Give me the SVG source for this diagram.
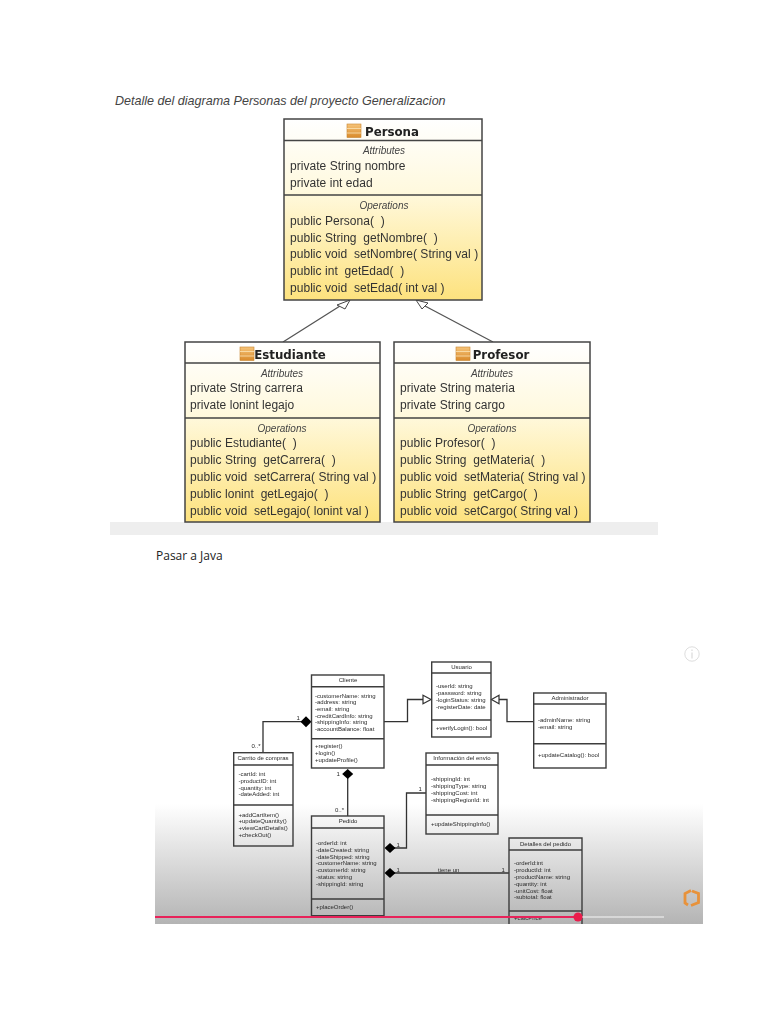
<svg xmlns="http://www.w3.org/2000/svg" width="768" height="1024" viewBox="0 0 768 1024">
<style>
text{font-family:"Liberation Sans",Arial,sans-serif;white-space:pre}
.box{fill:none;stroke:#3c3c3c;stroke-width:1.4}
.big .box{stroke:#444;stroke-width:1.5}
.big text{font-size:12px;letter-spacing:.04px;fill:#333}
.big .hd{font-family:"DejaVu Sans",sans-serif;font-weight:bold;font-size:11.800px;letter-spacing:0;fill:#222;text-anchor:middle}
.big .sec{font-style:italic;font-size:10px;letter-spacing:0;fill:#444;text-anchor:middle}
.small text{font-size:6px;fill:#2a2a2a}
.small .hd{text-anchor:middle}
.cn{fill:none;stroke:#333;stroke-width:1.3}
.cb{fill:none;stroke:#555;stroke-width:1.3}
.tri{fill:#fff;stroke:#333;stroke-width:1.200}
.dia{fill:#000}
</style>
<defs>
<linearGradient id="yl" x1="0" y1="0" x2="0" y2="1"><stop offset="0" stop-color="#ffffff"/><stop offset=".4" stop-color="#fff9de"/><stop offset="1" stop-color="#fde27e"/></linearGradient>
<linearGradient id="ic" x1="0" y1="0" x2="0" y2="1"><stop offset="0" stop-color="#f6c47a"/><stop offset="1" stop-color="#d98a2a"/></linearGradient>
<linearGradient id="bg" x1="0" y1="0" x2="0" y2="1"><stop offset="0" stop-color="#ffffff"/><stop offset=".2" stop-color="#f0f0f0"/><stop offset="1" stop-color="#b4b4b4"/></linearGradient>
<filter id="b1" x="-5%" y="-5%" width="110%" height="110%"><feGaussianBlur stdDeviation="0.3"/></filter>
<filter id="b2" x="-5%" y="-5%" width="110%" height="110%"><feGaussianBlur stdDeviation="0.4"/></filter>
<g id="icon"><rect x="-7" y="-7" width="14" height="13.5" fill="url(#ic)" stroke="#c8842e" stroke-width=".6"/><path d="M-7-2.500H7M-7 2H7" stroke="#fbe3b5" stroke-width=".8"/></g>
</defs>
<rect width="768" height="1024" fill="#fff"/>
<rect id="band" x="110" y="522" width="548" height="13" fill="#eeeeee"/>
<text id="title" x="115" y="105" font-style="italic" font-size="12.550px" fill="#444">Detalle del diagrama Personas del proyecto Generalizacion</text>
<text id="pasar" x="156" y="560" font-size="12px" fill="#222" style="font-family:'Open Sans','Liberation Sans',sans-serif">Pasar a Java</text>

<g filter="url(#b1)" class="big">
<g id="connectors-top">
<path class="cb" d="M283 342L340 306M493 342L425 306"/>
<path class="cb" d="M350 300L337 305L345 309ZM416 300L428 303L422 309Z" style="fill:#fff;stroke:#444;stroke-width:1"/>
</g>
<g id="persona">
<rect x="284" y="119" width="198" height="181" fill="url(#yl)"/>
<rect class="box" x="284" y="119" width="198" height="181"/>
<path class="box" d="M284 140.500H482M284 195H482"/>
<use href="#icon" x="354" y="131"/>
<text class="hd" x="392" y="136">Persona</text>
<text class="sec" x="384" y="154">Attributes</text>
<text x="290" y="170">private String nombre</text>
<text x="290" y="187">private int edad</text>
<text class="sec" x="384" y="209">Operations</text>
<text x="290" y="225">public Persona(  )</text>
<text x="290" y="242">public String  getNombre(  )</text>
<text x="290" y="258">public void  setNombre( String val )</text>
<text x="290" y="275">public int  getEdad(  )</text>
<text x="290" y="292">public void  setEdad( int val )</text>
</g>
<g id="estudiante">
<rect x="185" y="342" width="195" height="180" fill="url(#yl)"/>
<rect class="box" x="185" y="342" width="195" height="180"/>
<path class="box" d="M185 363H380M185 418H380"/>
<use href="#icon" x="247" y="354"/>
<text class="hd" x="290" y="358.500">Estudiante</text>
<text class="sec" x="282" y="377">Attributes</text>
<text x="190" y="392">private String carrera</text>
<text x="190" y="409">private lonint legajo</text>
<text class="sec" x="282" y="432">Operations</text>
<text x="190" y="447">public Estudiante(  )</text>
<text x="190" y="464">public String  getCarrera(  )</text>
<text x="190" y="481">public void  setCarrera( String val )</text>
<text x="190" y="498">public lonint  getLegajo(  )</text>
<text x="190" y="515">public void  setLegajo( lonint val )</text>
</g>
<g id="profesor">
<rect x="394" y="342" width="196" height="180" fill="url(#yl)"/>
<rect class="box" x="394" y="342" width="196" height="180"/>
<path class="box" d="M394 363H590M394 418H590"/>
<use href="#icon" x="463" y="354"/>
<text class="hd" x="501" y="358.500">Profesor</text>
<text class="sec" x="492" y="377">Attributes</text>
<text x="400" y="392">private String materia</text>
<text x="400" y="409">private String cargo</text>
<text class="sec" x="492" y="432">Operations</text>
<text x="400" y="447">public Profesor(  )</text>
<text x="400" y="464">public String  getMateria(  )</text>
<text x="400" y="481">public void  setMateria( String val )</text>
<text x="400" y="498">public String  getCargo(  )</text>
<text x="400" y="515">public void  setCargo( String val )</text>
</g>
</g>

<rect id="video-bg" x="155" y="804" width="548" height="120" fill="url(#bg)"/>
<g id="info-icon" fill="none" stroke="#dedede"><circle cx="692" cy="654" r="7.200"/><path d="M692 652.500V658.500M692 649.500V651" stroke-width="1.300"/></g>

<g filter="url(#b2)" class="small">
<g id="connectors">
<path class="cn" d="M263 752V721.700H302"/>
<path class="cn" d="M347.700 778V816"/>
<path class="cn" d="M384 721.700H407.500V699.500H423"/>
<path class="cn" d="M534 721.700H507V699.500H499"/>
<path class="cn" d="M426 793H406.500V848H394"/>
<path class="cn" d="M394 873H509"/>
<path class="tri" d="M431 699.500L423 695.200V703.800Z"/>
<path class="tri" d="M491.500 699.500L499 695.200V703.800Z"/>
<path class="dia" d="M300.500 721.700L306 716.200L311.500 721.700L306 727.200Z"/>
<path class="dia" d="M342.200 774L347.700 769L353.200 774L347.700 779Z"/>
<path class="dia" d="M384.500 848L390 843L395.500 848L390 853Z"/>
<path class="dia" d="M384.500 873L390 868L395.500 873L390 878Z"/>
<text x="296.500" y="719.500">1</text>
<text x="251.500" y="748">0..*</text>
<text x="336.500" y="776">1</text>
<text x="335" y="812">0..*</text>
<text x="418.500" y="791">1</text>
<text x="396.500" y="846.500">1</text>
<text x="396.500" y="871.500">1</text>
<text x="438" y="871.500">tiene un</text>
<text x="501.500" y="871.500">1</text>
</g>
<g id="cliente">
<rect class="box" x="311.500" y="675" width="72.500" height="93"/>
<path class="box" d="M311.500 686.700H384M311.500 738.700H384"/>
<text class="hd" x="348" y="682">Cliente</text>
<text x="315" y="697.500">-customerName: string</text>
<text x="315" y="704">-address: string</text>
<text x="315" y="710.700">-email: string</text>
<text x="315" y="717.500">-creditCardInfo: string</text>
<text x="315" y="724">-shippingInfo: string</text>
<text x="315" y="731">-accountBalance: float</text>
<text x="315" y="748">+register()</text>
<text x="315" y="755">+login()</text>
<text x="315" y="761.500">+updateProfile()</text>
</g>
<g id="carrito">
<rect class="box" x="233.700" y="752.700" width="59.300" height="93.300"/>
<path class="box" d="M233.700 765H293M233.700 805H293"/>
<text class="hd" x="263" y="760">Carrito de compras</text>
<text x="238.500" y="776">-cartId: int</text>
<text x="238.500" y="783">-productID: int</text>
<text x="238.500" y="789.500">-quantity: int</text>
<text x="238.500" y="796">-dateAdded: int</text>
<text x="238.500" y="816.500">+addCartItem()</text>
<text x="238.500" y="823">+updateQuantity()</text>
<text x="238.500" y="830">+viewCartDetails()</text>
<text x="238.500" y="837">+checkOut()</text>
</g>
<g id="pedido">
<rect class="box" x="311.500" y="816" width="72.500" height="99.700"/>
<path class="box" d="M311.500 828H384M311.500 899H384"/>
<text class="hd" x="348" y="823">Pedido</text>
<text x="316" y="845">-orderId: int</text>
<text x="316" y="851.500">-dateCreated: string</text>
<text x="316" y="858.500">-dateShipped: string</text>
<text x="316" y="865">-customerName: string</text>
<text x="316" y="872">-customerId: string</text>
<text x="316" y="878.500">-status: string</text>
<text x="316" y="885.500">-shippingId: string</text>
<text x="316" y="908.500">+placeOrder()</text>
</g>
<g id="usuario">
<rect class="box" x="431.700" y="662" width="59.300" height="75"/>
<path class="box" d="M431.700 673H491M431.700 720H491"/>
<text class="hd" x="461.500" y="669">Usuario</text>
<text x="436" y="688">-userId: string</text>
<text x="436" y="695">-password: string</text>
<text x="436" y="702">-loginStatus: string</text>
<text x="436" y="708.500">-registerDate: date</text>
<text x="436" y="730">+verifyLogin(): bool</text>
</g>
<g id="admin">
<rect class="box" x="533.700" y="693" width="72.300" height="75"/>
<path class="box" d="M533.700 704H606M533.700 743.700H606"/>
<text class="hd" x="570" y="700">Administrador</text>
<text x="538" y="722">-adminName: string</text>
<text x="538" y="729">-email: string</text>
<text x="538" y="757">+updateCatalog(): bool</text>
</g>
<g id="envio">
<rect class="box" x="426" y="753" width="72" height="81"/>
<path class="box" d="M426 765H498M426 815H498"/>
<text class="hd" x="462" y="760">Información del envío</text>
<text x="431" y="781">-shippingId: int</text>
<text x="431" y="788">-shippingType: string</text>
<text x="431" y="794.500">-shippingCost: int</text>
<text x="431" y="801.500">-shippingRegionId: int</text>
<text x="431" y="826">+updateShippingInfo()</text>
</g>
<g id="detalles">
<path class="box" d="M509 924V838H582V924M509 850H582M509 911H582"/>
<text class="hd" x="545.500" y="845.500">Detalles del pedido</text>
<text x="514" y="865">-orderId:int</text>
<text x="514" y="872">-productId: int</text>
<text x="514" y="879">-productName: string</text>
<text x="514" y="885.500">-quantity: int</text>
<text x="514" y="892.500">-unitCost: float</text>
<text x="514" y="899">-subtotal: float</text>
<text x="514" y="920">+calcPrice</text>
</g>
</g>

<g id="player" filter="url(#b1)">
<path d="M578 917H664" stroke="#e2e2e2" stroke-width="1.500"/>
<path d="M155 917H578" stroke="#e8225a" stroke-width="2.200"/>
<circle cx="578" cy="917" r="4.500" fill="#ea1a4c"/>
<path d="M691 890.500L685 893.500V903L688 905M692 891L698.500 893.500V902.500L691 905.500" fill="none" stroke="#e8923a" stroke-width="2.800"/>
</g>
</svg>
